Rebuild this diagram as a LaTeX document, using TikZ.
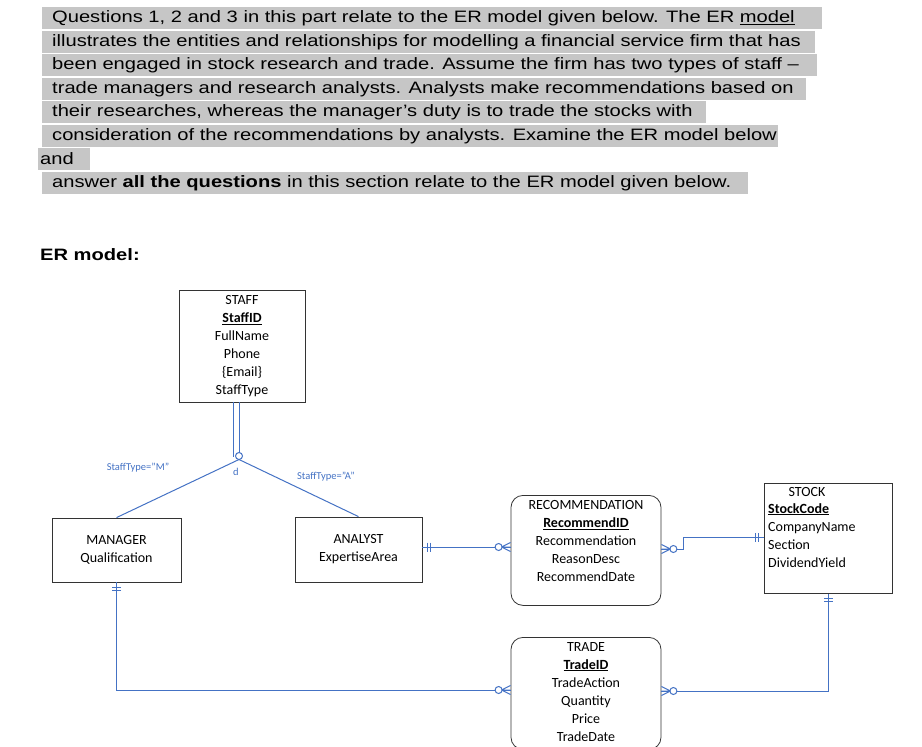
\documentclass[tikz,border=0pt]{standalone}
\usepackage{fontspec}
\setmainfont{Liberation Sans}
\newfontfamily\parafont[FakeStretch=1.22]{Liberation Sans}
\newfontfamily\carl{Carlito}
\definecolor{hl}{RGB}{198,198,198}
\definecolor{erb}{RGB}{68,114,196}
\begin{document}
\begin{tikzpicture}[x=1pt,y=-1pt,
  para/.style={anchor=west,inner sep=0pt,font=\parafont\fontsize{16.5}{18}\selectfont},
  ent/.style={draw=black!80,line width=0.8pt,align=center,font=\carl\fontsize{14}{18}\selectfont,inner sep=0pt},
  rent/.style={ent,rounded corners=12pt},
  etext/.style={inner sep=0pt,align=center,font=\carl\fontsize{14}{18}\selectfont},
  rel/.style={draw=erb,line width=1pt},
  lbl/.style={text=erb,font=\carl\fontsize{10.5}{11}\selectfont,inner sep=0pt}]
\useasboundingbox (0,0) rectangle (922,747);
% highlights
\foreach \xa/\xb/\y in {42/822/18,42/815/42,42/817/65,42/806/89,42/706/112,42/778/136,38/90/159,42/748/183}
  \fill[hl] (\xa,\y-11) rectangle (\xb,\y+11);
\node[para] (p1) at (52,18) {Questions 1, 2 and 3 in this part relate to the ER model given below. The ER \underline{model}};
\node[para] (p2) at (52,42) {illustrates the entities and relationships for modelling a financial service firm that has};
\node[para] (p3) at (52,65) {been engaged in stock research and trade. Assume the firm has two types of staff –};
\node[para] (p4) at (52,89) {trade managers and research analysts. Analysts make recommendations based on};
\node[para] (p5) at (52,112) {their researches, whereas the manager’s duty is to trade the stocks with};
\node[para] (p6) at (52,136) {consideration of the recommendations by analysts. Examine the ER model below};
\node[para] (p7) at (40,159) {and};
\node[para] (p8) at (52,183) {answer \textbf{all the questions} in this section relate to the ER model given below.};
\node[para] (er) at (40,255) {\textbf{ER model:}};
% entities
\node[ent,minimum width=126pt,minimum height=112pt] (staff) at (242,346) {STAFF\\\textbf{\underline{StaffID}}\\FullName\\Phone\\\{Email\}\\StaffType};
\node[ent,minimum width=129pt,minimum height=64pt] (man) at (116.5,550) {MANAGER\\Qualification};
\node[ent,minimum width=127pt,minimum height=65pt] (ana) at (358.5,549.5) {ANALYST\\ExpertiseArea};
\node[rent,minimum width=150pt,minimum height=110pt,anchor=north] (rec) at (586,495) {};
\node[etext,anchor=north] (rect) at (586,500) {RECOMMENDATION\\\textbf{\underline{RecommendID}}\\Recommendation\\ReasonDesc\\RecommendDate};
\node[ent,minimum width=128pt,minimum height=110pt,anchor=north] (stock) at (828,483) {};
\node[etext,anchor=north] (stt) at (807,487) {STOCK};
\node[etext,anchor=north west,align=left] (sta) at (768,503) {\textbf{\underline{StockCode}}\\CompanyName\\Section\\DividendYield};
\node[rent,minimum width=150pt,minimum height=112pt,anchor=north] (trade) at (586,637) {};
\node[etext,anchor=north] (tradet) at (586,642) {TRADE\\\textbf{\underline{TradeID}}\\TradeAction\\Quantity\\Price\\TradeDate};
% specialization
\coordinate (d) at (239,456);
\draw[rel] (staff.south -| 233,0) -- (233,457);
\draw[rel] (staff.south -| 239,0) -- (239,452.5);
\draw[rel] (d) circle (3.5);
\draw[rel] (239,459.5) -- (man.north);
\draw[rel] (239,459.5) -- (ana.north);
\node[lbl] (ld) at (236,472) {d};
\node[lbl] (lm) at (138,468) {StaffType=”M”};
\node[lbl] (la) at (326,477) {StaffType=”A”};
% relationships
\tikzset{zm/.pic={\draw[erb,line width=1pt] (-9,0) -- (0,-4.5) (-9,0) -- (0,4.5) (-9,0)--(0,0); \draw[erb,line width=1pt,fill=white] (-12,0) circle (3.5);},
 bars/.pic={\draw[erb,line width=1pt] (5,-4.5) -- (5,4.5) (8,-4.5) -- (8,4.5);}}
\draw[rel] (ana.east |- 0,547) -- (rec.west |- 0,547);
\pic at (ana.east |- 0,547) {bars};
\pic at (rec.west |- 0,547) {zm};
\draw[rel] (rec.east |- 0,549) -- (683,549) -- (683,537) -- (stock.west |- 0,537);
\pic[rotate=180] at (rec.east |- 0,549) {zm};
\pic[rotate=180] at (stock.west |- 0,537) {bars};
\draw[rel] (stock.south) -- (828,691) -- (trade.east |- 0,691);
\pic[rotate=-90] at (stock.south) {bars};
\pic[rotate=180] at (trade.east |- 0,691) {zm};
\draw[rel] (man.south) -- (116.5,690) -- (trade.west |- 0,690);
\pic[rotate=-90] at (man.south) {bars};
\pic at (trade.west |- 0,690) {zm};
\end{tikzpicture}
\end{document}
